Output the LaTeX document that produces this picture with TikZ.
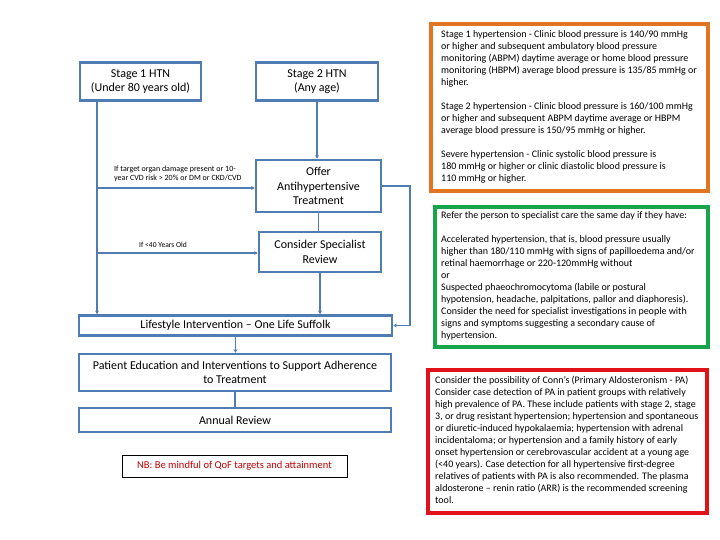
\documentclass[tikz,border=0pt]{standalone}
\usepackage{fontspec}
\setmainfont{Carlito}
\usetikzlibrary{calc,arrows.meta}
\definecolor{boxblue}{RGB}{79,124,178}
\definecolor{oborder}{RGB}{226,118,32}
\definecolor{gborder}{RGB}{24,164,74}
\definecolor{rborder}{RGB}{226,18,26}
\definecolor{nbred}{RGB}{192,0,0}
\tikzset{
  fbox/.style={draw=boxblue, line width=2.5pt, fill=white, align=center, inner sep=1pt,
    font=\fontsize{12}{14.5}\selectfont},
  arr/.style={draw=boxblue, line width=1.6pt, -{Stealth[length=3.5pt,width=3.5pt]}},
  lnk/.style={draw=boxblue, line width=1.6pt},
  lbl/.style={font=\fontsize{8}{9}\selectfont, align=left, anchor=west, inner sep=0pt},
  info/.style={line width=3.5pt, fill=white, inner sep=0pt},
  infotxt/.style={font=\fontsize{10}{12}\selectfont, align=left, anchor=north west, inner sep=0pt}
}
\begin{document}
\begin{tikzpicture}[x=1pt,y=-1pt]
\useasboundingbox[fill=white] (0,0) rectangle (720,540);

% left flowchart boxes
\node[fbox, minimum width=121pt, minimum height=38pt] (s1) at (140.5,81.5) {Stage 1 HTN\\(Under 80 years old)};
\node[fbox, minimum width=122pt, minimum height=38pt] (s2) at (317,81.5) {Stage 2 HTN\\(Any age)};
\node[fbox, minimum width=125pt, minimum height=52pt] (offer) at (318.5,186) {Offer\\Antihypertensive\\Treatment};
\node[fbox, minimum width=122pt, minimum height=40pt] (spec) at (320,252) {Consider Specialist\\Review};
\node[fbox, minimum width=313pt, minimum height=20pt] (life) at (235.5,325.5) {Lifestyle Intervention -- One Life Suffolk};
\node[fbox, minimum width=312pt, minimum height=37pt] (edu) at (235,372.5) {Patient Education and Interventions to Support Adherence\\to Treatment};
\node[fbox, minimum width=312pt, minimum height=24pt] (annual) at (235,420) {Annual Review};
\node[draw=black, line width=0.8pt, minimum width=225pt, minimum height=22pt, text=nbred,
  font=\fontsize{10.5}{12}\selectfont] (nb) at (234.5,466) {NB: Be mindful of QoF targets and attainment};

% connectors
\coordinate (j1) at (97,188);
\coordinate (j2) at (97,253);
\coordinate (c1) at (410,200);
\draw[arr] (s1.south -| j1) -- (life.north -| j1);
\draw[arr] (j1) -- (j1 -| offer.west);
\draw[arr] (j2) -- (j2 -| spec.west);
\draw[arr] (s2.south) -- (s2.south |- offer.north);
\draw[lnk] (offer.south) -- (offer.south |- spec.north);
\draw[arr] (spec.south) -- (spec.south |- life.north);
\draw[arr] (offer.east) -| (c1) |- (life.east);
\draw[arr] (life.south) -- (life.south |- edu.north);
\draw[lnk] (edu.south) -- (edu.south |- annual.north);

\node[lbl] (l1) at (114,173.5) {If target organ damage present or 10-\\year CVD risk > 20\% or DM or CKD/CVD};
\node[lbl, font=\fontsize{7.6}{9}\selectfont] (l2) at (139,245) {If <40 Years Old};

% right info boxes
\node[info, draw=oborder, minimum width=277pt, minimum height=167pt] (defs) at (569.5,107.5) {};
\node[infotxt] (deft) at (441,30) {Stage 1 hypertension - Clinic blood pressure is 140/90 mmHg\\
or higher and subsequent ambulatory blood pressure\\
monitoring (ABPM) daytime average or home blood pressure\\
monitoring (HBPM) average blood pressure is 135/85 mmHg or\\
higher.\\[12pt]
Stage 2 hypertension - Clinic blood pressure is 160/100 mmHg\\
or higher and subsequent ABPM daytime average or HBPM\\
average blood pressure is 150/95 mmHg or higher.\\[12pt]
Severe hypertension - Clinic systolic blood pressure is\\
180 mmHg or higher or clinic diastolic blood pressure is\\
110 mmHg or higher.};

\node[info, draw=gborder, minimum width=273pt, minimum height=140pt] (refer) at (571.5,277) {};
\node[infotxt] (refert) at (441,211) {Refer the person to specialist care the same day if they have:\\[12pt]
Accelerated hypertension, that is, blood pressure usually\\
higher than 180/110 mmHg with signs of papilloedema and/or\\
retinal haemorrhage or 220-120mmHg without\\
or\\
Suspected phaeochromocytoma (labile or postural\\
hypotension, headache, palpitations, pallor and diaphoresis).\\
Consider the need for specialist investigations in people with\\
signs and symptoms suggesting a secondary cause of\\
hypertension.};

\node[info, draw=rborder, minimum width=279pt, minimum height=143pt] (conn) at (567.5,441.5) {};
\node[infotxt] (connt) at (435,376) {Consider the possibility of Conn's (Primary Aldosteronism - PA)\\
Consider case detection of PA in patient groups with relatively\\
high prevalence of PA. These include patients with stage 2, stage\\
3, or drug resistant hypertension; hypertension and spontaneous\\
or diuretic-induced hypokalaemia; hypertension with adrenal\\
incidentaloma; or hypertension and a family history of early\\
onset hypertension or cerebrovascular accident at a young age\\
(<40 years). Case detection for all hypertensive first-degree\\
relatives of patients with PA is also recommended. The plasma\\
aldosterone -- renin ratio (ARR) is the recommended screening\\
tool.};
\end{tikzpicture}
\end{document}
